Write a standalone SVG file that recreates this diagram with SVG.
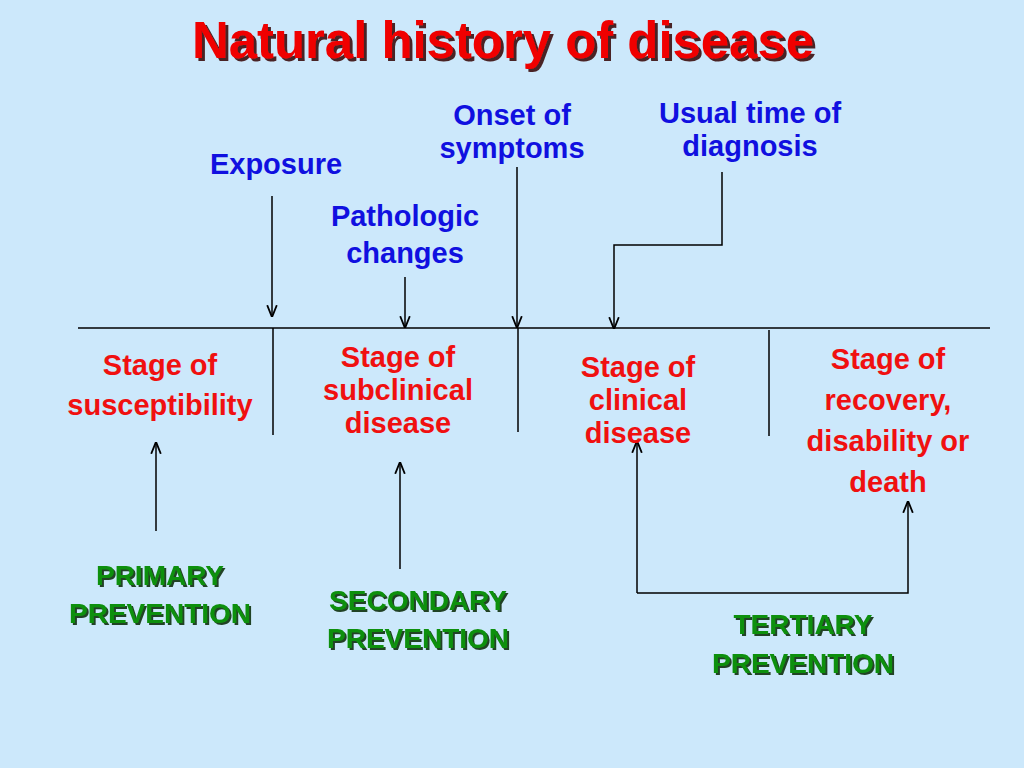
<svg xmlns="http://www.w3.org/2000/svg" width="1024" height="768" viewBox="0 0 1024 768">
<defs>
<marker id="ah" viewBox="0 0 10 10" refX="9" refY="5" markerWidth="8" markerHeight="8" orient="auto"><path d="M0,1 L10,5 L0,9" fill="none" stroke="#000" stroke-width="1.5"/></marker>
<filter id="sh" x="-5%" y="-20%" width="110%" height="140%"><feDropShadow dx="3" dy="3" stdDeviation="0.6" flood-color="#3a1010" flood-opacity="0.9"/></filter>
<filter id="shg" x="-5%" y="-20%" width="110%" height="140%"><feDropShadow dx="2" dy="2" stdDeviation="0.4" flood-color="#0a300a" flood-opacity="0.9"/></filter>
<style>
text{font-family:"Liberation Sans",Arial,sans-serif;font-weight:bold;text-anchor:middle}
.b{fill:#1010e0;font-size:29px}
.r{fill:#f01010;font-size:29px}
.g{fill:#109010;font-size:28px;filter:url(#shg)}
.l{stroke:#000;stroke-width:1.5;fill:none}
.a{stroke:#000;stroke-width:1.5;fill:none;marker-end:url(#ah)}
</style>
</defs>
<rect width="1024" height="768" fill="#cce8fb"/>
<g id="title"><text x="503" y="58" textLength="622" lengthAdjust="spacingAndGlyphs" style="font-size:52px;fill:#f00000;filter:url(#sh)">Natural history of disease</text></g>
<g id="connectors">
<line class="l" x1="78" y1="328" x2="990" y2="328"/>
<line class="l" x1="273" y1="328" x2="273" y2="435"/>
<line class="l" x1="518" y1="328" x2="518" y2="432"/>
<line class="l" x1="769" y1="330" x2="769" y2="436"/>
<line class="a" x1="272" y1="196" x2="272" y2="316"/>
<line class="a" x1="405" y1="277" x2="405" y2="327"/>
<line class="a" x1="517" y1="167" x2="517" y2="327"/>
<path class="a" d="M722,172 V245 H614 V328"/>
<line class="a" x1="156" y1="531" x2="156" y2="443"/>
<line class="a" x1="400" y1="569" x2="400" y2="463"/>
<path class="a" d="M637,593 V442"/>
<path class="a" d="M637,593 H908 V502"/>
</g>
<g id="exposure"><text class="b" x="276" y="174">Exposure</text></g>
<g id="pathologic"><text class="b" x="405" y="226">Pathologic</text><text class="b" x="405" y="263">changes</text></g>
<g id="onset"><text class="b" x="512" y="125">Onset of</text><text class="b" x="512" y="158">symptoms</text></g>
<g id="diagnosis"><text class="b" x="750" y="123">Usual time of</text><text class="b" x="750" y="156">diagnosis</text></g>
<g id="s1"><text class="r" x="160" y="375">Stage of</text><text class="r" x="160" y="415">susceptibility</text></g>
<g id="s2"><text class="r" x="398" y="367">Stage of</text><text class="r" x="398" y="400">subclinical</text><text class="r" x="398" y="433">disease</text></g>
<g id="s3"><text class="r" x="638" y="377">Stage of</text><text class="r" x="638" y="410">clinical</text><text class="r" x="638" y="443">disease</text></g>
<g id="s4"><text class="r" x="888" y="369">Stage of</text><text class="r" x="888" y="410">recovery,</text><text class="r" x="888" y="451">disability or</text><text class="r" x="888" y="492">death</text></g>
<g id="primary"><text class="g" x="160" y="585">PRIMARY</text><text class="g" x="160" y="623">PREVENTION</text></g>
<g id="secondary"><text class="g" x="418" y="610">SECONDARY</text><text class="g" x="418" y="648">PREVENTION</text></g>
<g id="tertiary"><text class="g" x="803" y="634">TERTIARY</text><text class="g" x="803" y="673">PREVENTION</text></g>
</svg>
